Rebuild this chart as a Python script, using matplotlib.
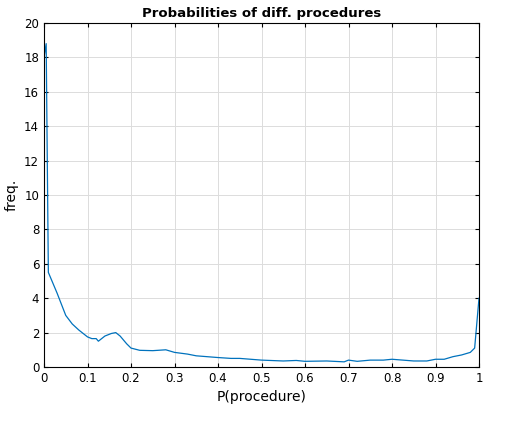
import matplotlib
matplotlib.use("Agg")
import matplotlib.pyplot as plt

x = [0.0, 0.005, 0.01, 0.03, 0.05, 0.065, 0.08, 0.1, 0.11, 0.12, 0.125, 0.14, 0.155, 0.165, 0.175, 0.19, 0.2, 0.22, 0.25, 0.28, 0.3, 0.33, 0.35, 0.4, 0.43, 0.45, 0.5, 0.55, 0.58, 0.6, 0.65, 0.69, 0.7, 0.72, 0.75, 0.78, 0.8, 0.85, 0.88, 0.9, 0.92, 0.94, 0.96, 0.98, 0.99, 1.0]
y = [18.0, 18.8, 5.5, 4.3, 3.0, 2.5, 2.15, 1.75, 1.65, 1.65, 1.5, 1.8, 1.95, 2.0, 1.8, 1.35, 1.1, 0.97, 0.95, 1.0, 0.85, 0.75, 0.65, 0.55, 0.5, 0.5, 0.4, 0.35, 0.38, 0.33, 0.35, 0.3, 0.4, 0.33, 0.4, 0.4, 0.45, 0.35, 0.35, 0.45, 0.45, 0.6, 0.7, 0.85, 1.1, 4.0]

fig = plt.figure(figsize=(5.19, 4.22), dpi=100)
ax = fig.add_axes([44/519, 55/422, 435/519, 344/422])
ax.plot(x, y, color="#0072BD", lw=0.9)
ax.set_xlim(0, 1)
ax.set_ylim(0, 20)
ax.set_xticks([i/10 for i in range(11)])
ax.set_xticklabels(["0", "0.1", "0.2", "0.3", "0.4", "0.5", "0.6", "0.7", "0.8", "0.9", "1"])
ax.set_yticks(range(0, 21, 2))
ax.grid(True, color="#dcdcdc", lw=0.7)
ax.tick_params(direction="in", labelsize=8.5, length=3, top=True, right=True)
for s in ax.spines.values():
    s.set_linewidth(0.8)
ax.set_title("Probabilities of diff. procedures", fontsize=9.5, fontweight="bold", pad=4)
ax.set_xlabel("P(procedure)", fontsize=10)
ax.set_ylabel("freq.", fontsize=10)
fig.savefig("out.png", dpi=100)
